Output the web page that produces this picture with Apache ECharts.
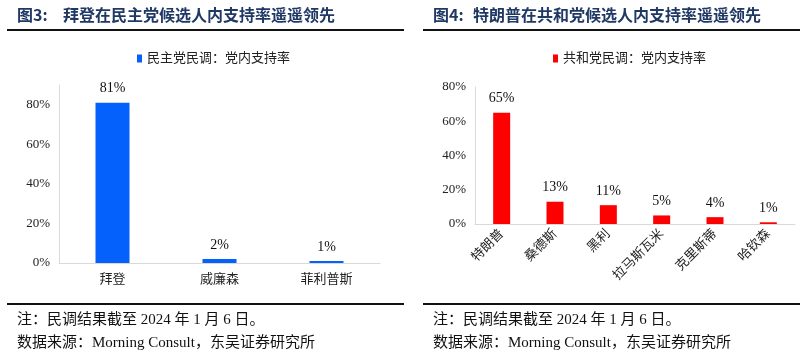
<!DOCTYPE html>
<html>
<head>
<meta charset="utf-8">
<script src="https://cdn.jsdelivr.net/npm/echarts@6/dist/echarts.min.js"></script>
<style>html,body{margin:0;padding:0;background:#fff}#c{width:800px;height:357px}</style>
</head>
<body>
<div id="c"></div>
<script>
const demCategories = ['拜登', '威廉森', '菲利普斯'];
const demValues = [81, 2, 1];
const repCategories = ['特朗普', '桑德斯', '黑利', '拉马斯瓦米', '克里斯蒂', '哈钦森'];
const repValues = [65, 13, 11, 5, 4, 1];
const demSeriesName = '民主党民调：党内支持率';
const repSeriesName = '共和党民调：党内支持率';
const leftTitleNo = '图3:';
const leftTitle = '拜登在民主党候选人内支持率遥遥领先';
const rightTitleNo = '图4:';
const rightTitle = '特朗普在共和党候选人内支持率遥遥领先';
const noteText = '注：民调结果截至 2024 年 1 月 6 日。';
const sourceText = '数据来源：Morning Consult，东吴证券研究所';

const serif = '"Liberation Serif", "Noto Sans CJK SC", serif';
const titleFont = '"Noto Sans CJK SC", sans-serif';
const titleColor = '#1F3864';
const axisLineColor = '#D9D9D9';

const chart = echarts.init(document.getElementById('c'), null, {renderer: 'canvas'});

function txt(x, y, text, opts) {
  return Object.assign({
    type: 'text', x: x, y: y,
    style: Object.assign({text: text, fill: '#111', font: '15px ' + serif, verticalAlign: 'middle'}, opts || {})
  });
}

const option = {
  animation: false,
  backgroundColor: '#fff',
  legend: [
    {data: [demSeriesName], left: 132, top: 47, icon: 'rect', itemWidth: 5, itemHeight: 8, itemGap: 4,
     textStyle: {fontSize: 13, fontFamily: serif, color: '#222'}},
    {data: [repSeriesName], left: 548, top: 47, icon: 'rect', itemWidth: 5, itemHeight: 8, itemGap: 4,
     textStyle: {fontSize: 13, fontFamily: serif, color: '#222'}}
  ],
  grid: [
    {left: 59, right: 420, top: 85, bottom: 94},
    {left: 475, right: 5, top: 87, bottom: 133}
  ],
  xAxis: [
    {type: 'category', gridIndex: 0, data: demCategories,
     axisLine: {lineStyle: {color: axisLineColor, width: 1}}, axisTick: {show: false},
     axisLabel: {color: '#222', fontSize: 13, fontFamily: serif, margin: 10}},
    {type: 'category', gridIndex: 1, data: repCategories,
     axisLine: {lineStyle: {color: axisLineColor, width: 1}}, axisTick: {show: false},
     axisLabel: {color: '#222', fontSize: 13, fontFamily: serif, margin: 8, rotate: 45, interval: 0}}
  ],
  yAxis: [
    {type: 'value', gridIndex: 0, min: 0, max: 90, interval: 20,
     splitLine: {show: false}, axisTick: {show: false},
     axisLine: {show: true, lineStyle: {color: axisLineColor}},
     axisLabel: {formatter: '{value}%', color: '#222', fontSize: 13, fontFamily: serif, margin: 9, showMaxLabel: false}},
    {type: 'value', gridIndex: 1, min: 0, max: 80, interval: 20,
     splitLine: {show: false}, axisTick: {show: false},
     axisLine: {show: true, lineStyle: {color: axisLineColor}},
     axisLabel: {formatter: '{value}%', color: '#222', fontSize: 13, fontFamily: serif, margin: 9}}
  ],
  series: [
    {name: demSeriesName, type: 'bar', xAxisIndex: 0, yAxisIndex: 0, data: demValues, barWidth: 34,
     itemStyle: {color: '#0561FB'},
     label: {show: true, position: 'top', distance: 7, formatter: '{c}%', color: '#111', fontSize: 14, fontFamily: serif}},
    {name: repSeriesName, type: 'bar', xAxisIndex: 1, yAxisIndex: 1, data: repValues, barWidth: 17,
     itemStyle: {color: '#FF0000'},
     label: {show: true, position: 'top', distance: 7, formatter: '{c}%', color: '#111', fontSize: 14, fontFamily: serif}}
  ],
  graphic: [
    txt(17, 15, leftTitleNo, {font: 'bold 16px ' + titleFont, fill: titleColor}),
    txt(63, 15, leftTitle, {font: 'bold 16px ' + titleFont, fill: titleColor}),
    txt(433, 15, rightTitleNo, {font: 'bold 16px ' + titleFont, fill: titleColor}),
    txt(473, 15, rightTitle, {font: 'bold 16px ' + titleFont, fill: titleColor}),
    {type: 'rect', shape: {x: 7, y: 29, width: 397, height: 2}, style: {fill: '#111'}},
    {type: 'rect', shape: {x: 423, y: 29, width: 377, height: 2}, style: {fill: '#111'}},
    {type: 'rect', shape: {x: 7, y: 303, width: 397, height: 2}, style: {fill: '#111'}},
    {type: 'rect', shape: {x: 423, y: 303, width: 377, height: 2}, style: {fill: '#111'}},
    txt(17, 320, noteText),
    txt(17, 343, sourceText),
    txt(433, 320, noteText),
    txt(433, 343, sourceText)
  ]
};
chart.setOption(option);
</script>
</body>
</html>
